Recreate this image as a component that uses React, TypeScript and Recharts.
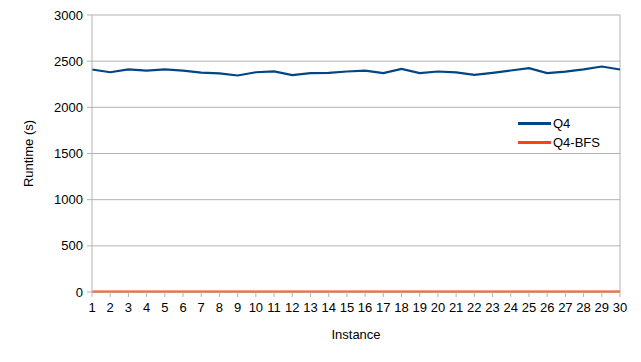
import { LineChart, Line, XAxis, YAxis, CartesianGrid, ReferenceLine } from 'recharts';

const instances = [
  1, 2, 3, 4, 5, 6, 7, 8, 9, 10, 11, 12, 13, 14, 15,
  16, 17, 18, 19, 20, 21, 22, 23, 24, 25, 26, 27, 28, 29, 30,
];

const q4 = [
  2410, 2380, 2410, 2397, 2410, 2397, 2375, 2368, 2345, 2380, 2390, 2350, 2370, 2374, 2388,
  2397, 2370, 2417, 2370, 2388, 2378, 2352, 2374, 2399, 2424, 2370, 2387, 2412, 2442, 2410,
];

const q4Bfs = [
  4, 4, 4, 4, 4, 4, 4, 4, 4, 4, 4, 4, 4, 4, 4,
  4, 4, 4, 4, 4, 4, 4, 4, 4, 4, 4, 4, 4, 4, 4,
];

const yTicks = [0, 500, 1000, 1500, 2000, 2500, 3000];

const data = instances.map((inst, i) => ({ instance: inst, q4: q4[i], q4bfs: q4Bfs[i] }));

const FONT = '"Liberation Sans", Arial, sans-serif';
const GRID = '#b3b3b3';

const series = [
  { key: 'q4', name: 'Q4', color: '#004586' },
  { key: 'q4bfs', name: 'Q4-BFS', color: '#ff420e' },
];

// legend drawn as an overlay so it doesn't shrink the plot area
const LegendBox = () => (
  <div
    style={{
      position: 'absolute',
      left: 518,
      top: 114,
      fontFamily: FONT,
      fontSize: 13,
      color: '#000',
      lineHeight: '19px',
    }}
  >
    {series.map((s) => (
      <div key={s.key} style={{ display: 'flex', alignItems: 'center' }}>
        <span style={{ display: 'inline-block', width: 33, height: 3, background: s.color, marginRight: 2 }} />
        <span>{s.name}</span>
      </div>
    ))}
  </div>
);

export default function App() {
  return (
    <div style={{ position: 'absolute', left: 0, top: 0, width: 641, height: 362, background: '#fff' }}>
      <LineChart width={641} height={362} data={data} margin={{ top: 15, right: 21, bottom: 0, left: 0 }}>
        <CartesianGrid vertical={false} stroke={GRID} strokeWidth={1} />
        <XAxis
          dataKey="instance"
          interval={0}
          padding={{ left: 0, right: 0 }}
          height={70}
          stroke={GRID}
          tickSize={5}
          tickMargin={6}
          tick={{ fill: '#000', fontSize: 13, fontFamily: FONT }}
          label={{ value: 'Instance', position: 'insideBottom', offset: 23, fill: '#000', fontSize: 13, fontFamily: FONT }}
        />
        <YAxis
          domain={[0, 3000]}
          ticks={yTicks}
          width={92}
          stroke={GRID}
          tickSize={5}
          tickMargin={4}
          tick={{ fill: '#000', fontSize: 13, fontFamily: FONT }}
          label={{
            value: 'Runtime (s)',
            angle: -90,
            position: 'insideLeft',
            offset: 28,
            fill: '#000',
            fontSize: 13,
            fontFamily: FONT,
            style: { textAnchor: 'middle' },
          }}
        />
        <ReferenceLine x={30} stroke={GRID} strokeWidth={1} />
        {series.map((s) => (
          <Line
            key={s.key}
            type="linear"
            dataKey={s.key}
            name={s.name}
            stroke={s.color}
            strokeWidth={2.2}
            dot={false}
            isAnimationActive={false}
          />
        ))}
      </LineChart>
      <LegendBox />
    </div>
  );
}
